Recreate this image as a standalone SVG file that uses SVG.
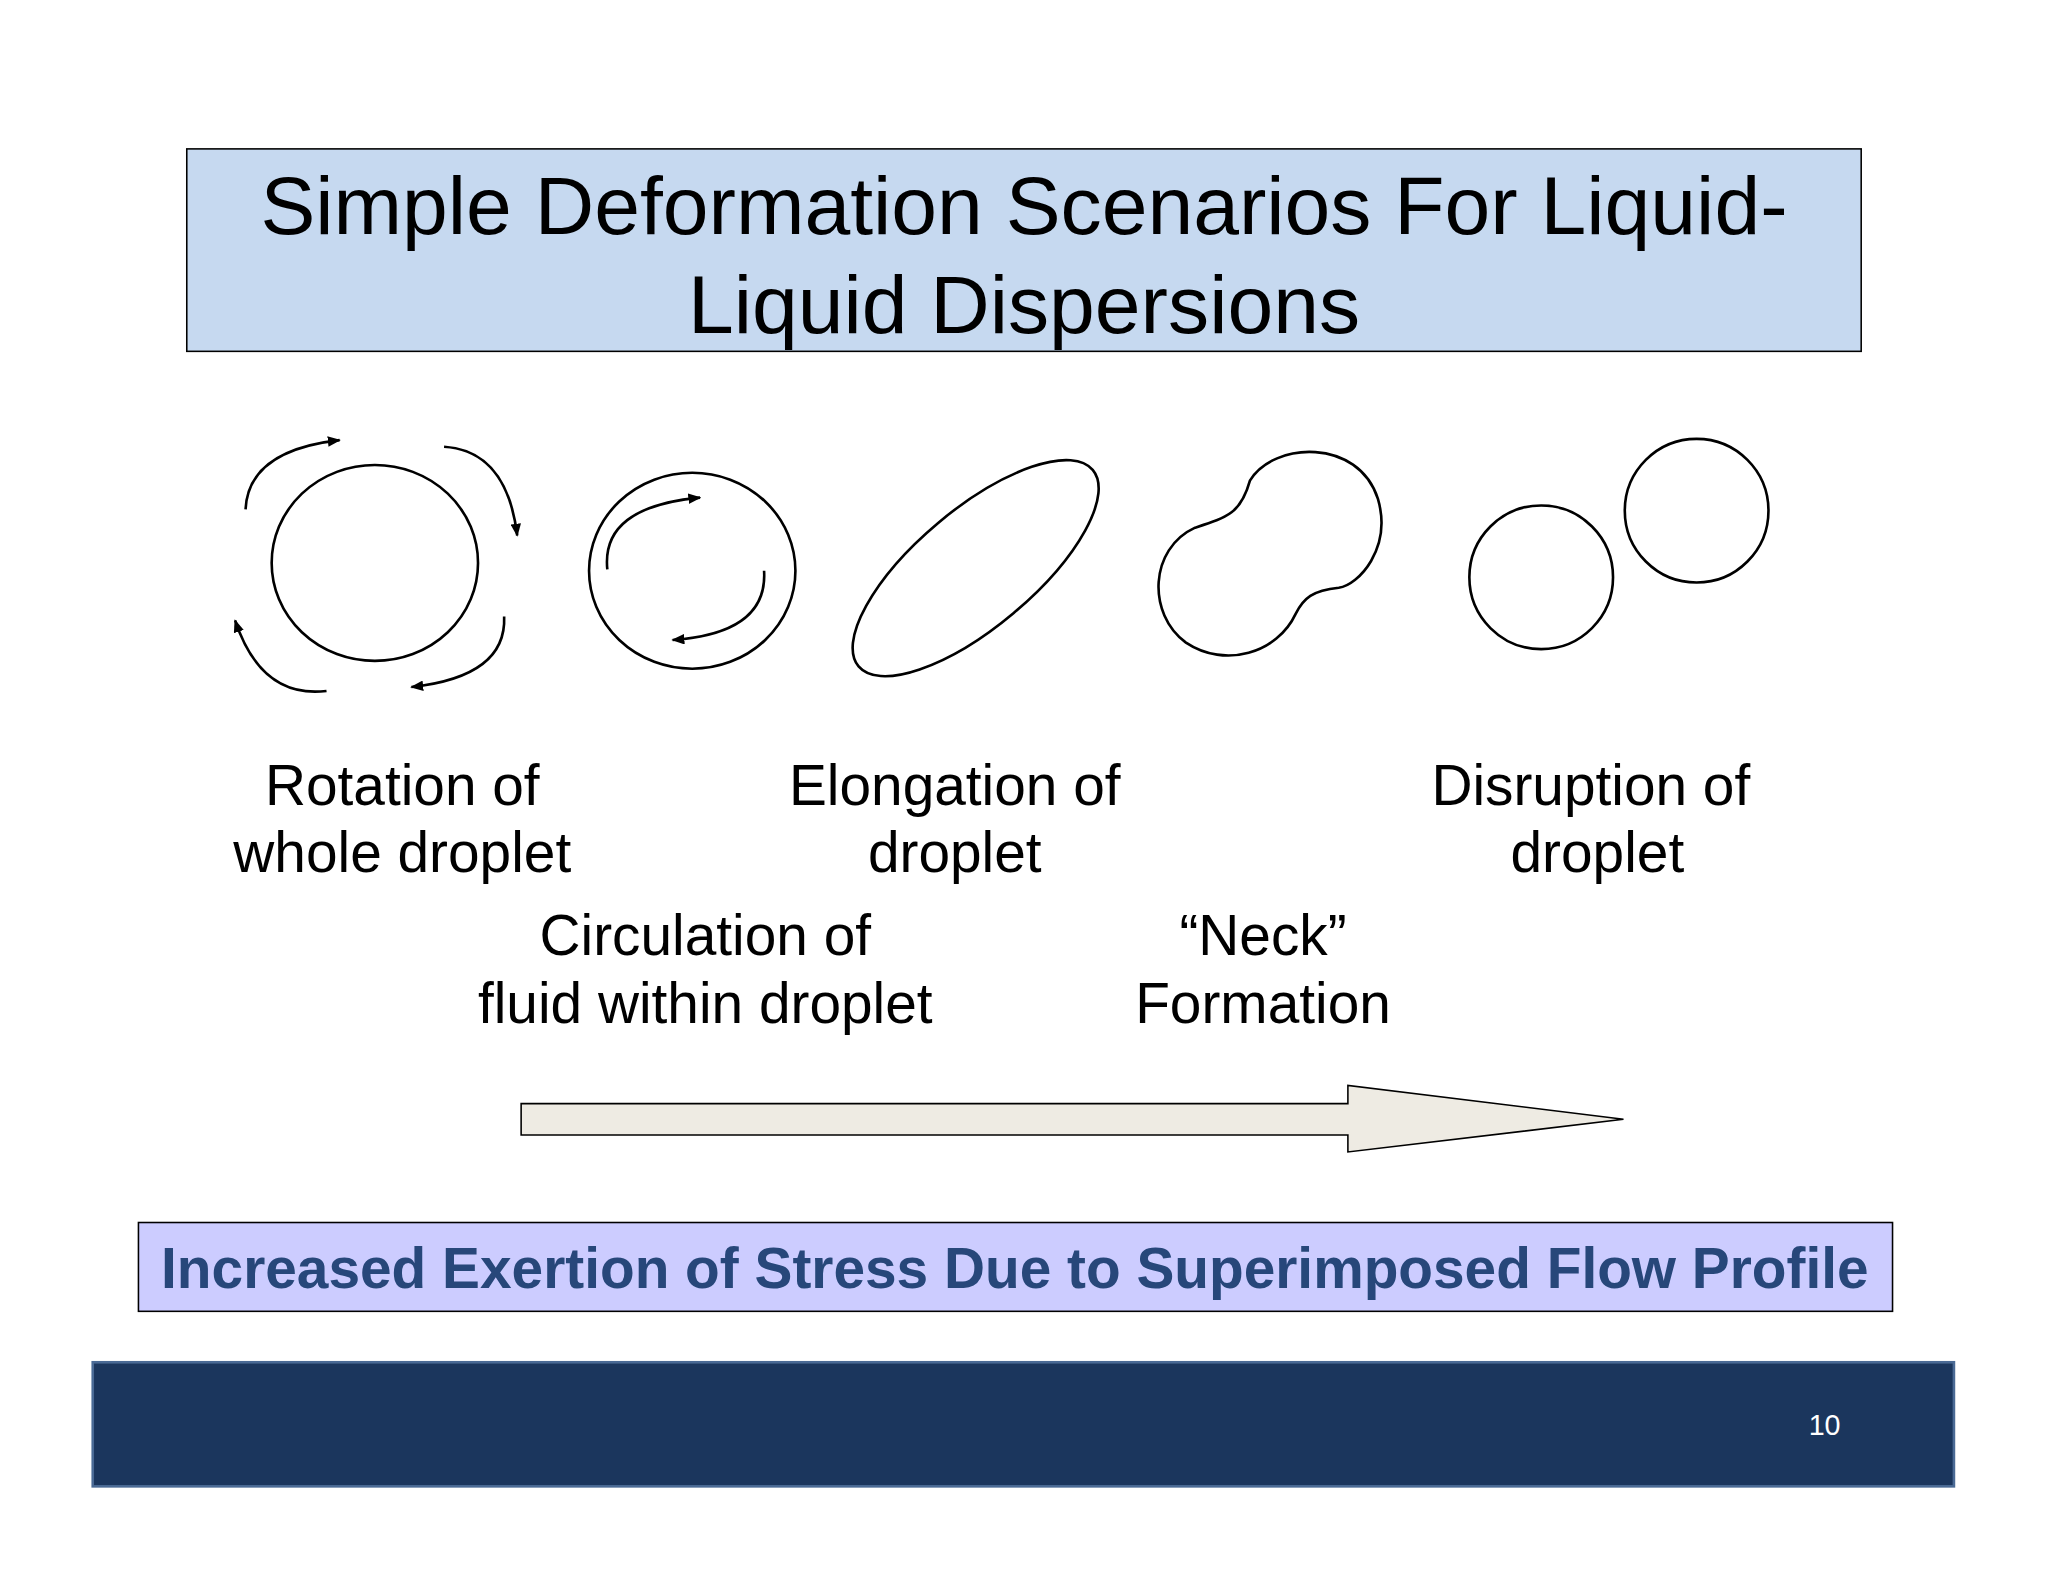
<svg xmlns="http://www.w3.org/2000/svg" width="2048" height="1582" viewBox="0 0 2048 1582">
<style>
.s{fill:none;stroke:#000;stroke-width:2}
.t{font-family:"Liberation Sans",Arial,sans-serif;font-size:43.5px;text-anchor:middle;fill:#000}
</style>
<defs><marker id="a" markerWidth="10" markerHeight="8" refX="9" refY="4" orient="auto" markerUnits="userSpaceOnUse"><path d="M0,0 L10,4 L0,8 Z" fill="#000"/></marker></defs>
<rect width="2048" height="1582" fill="#fff"/>
<g transform="scale(1.3061)">
<g id="title"><rect x="143" y="114" width="1282" height="155" fill="#c6d9f0" stroke="#000" stroke-width="1.2"/>
<text class="t" x="784" y="179" style="font-size:63px">Simple Deformation Scenarios For Liquid-</text>
<text class="t" x="784" y="255" style="font-size:63px">Liquid Dispersions</text></g>
<g id="rotation"><ellipse class="s" cx="287" cy="431" rx="79" ry="75"/></g>
<g id="circulation"><ellipse class="s" cx="530" cy="437" rx="79" ry="75"/></g>
<g id="elongation"><ellipse class="s" cx="747" cy="435" rx="117" ry="45" transform="rotate(-40 747 435)"/></g>
<g id="neck"><path class="s" d="M957,368 C975,338 1040,335 1055,382 C1066,420 1040,448 1025,450 C1005,452 998,458 992,470 C978,500 938,512 908,492 C878,470 880,420 915,404 C940,396 950,393 957,368 Z"/></g>
<g id="disruption"><circle class="s" cx="1180" cy="442" r="55"/><circle class="s" cx="1299" cy="391" r="55"/></g>
<g id="connectors">
<path class="s" d="M188,390 Q190,345 260,337" marker-end="url(#a)"/>
<path class="s" d="M340,342 Q388,345 396,410" marker-end="url(#a)"/>
<path class="s" d="M386,472 Q388,518 315,526" marker-end="url(#a)"/>
<path class="s" d="M250,529 Q200,535 180,475" marker-end="url(#a)"/>
<path class="s" d="M465,436 Q460,388 536,381" marker-end="url(#a)"/>
<path class="s" d="M585,437 Q588,485 515,490" marker-end="url(#a)"/>
</g>
<g id="labels">
<text class="t" x="308" y="616">Rotation of</text><text class="t" x="308" y="668">whole droplet</text>
<text class="t" x="731" y="616">Elongation of</text><text class="t" x="731" y="668">droplet</text>
<text class="t" x="1218" y="616">Disruption of</text><text class="t" x="1223" y="668">droplet</text>
<text class="t" x="540" y="731">Circulation of</text><text class="t" x="540" y="783">fluid within droplet</text>
<text class="t" x="967" y="731">“Neck”</text><text class="t" x="967" y="783">Formation</text>
</g>
<g id="bigarrow"><polygon points="399,845 1032,845 1032,831 1243,857 1032,882 1032,869 399,869" fill="#eeebe3" stroke="#000" stroke-width="1.2"/></g>
<g id="stress"><rect x="106" y="936" width="1343" height="68" fill="#ccccff" stroke="#000" stroke-width="1.2"/>
<text class="t" x="777" y="986" style="font-weight:bold;fill:#27477a">Increased Exertion of Stress Due to Superimposed Flow Profile</text></g>
<g id="footer"><rect x="71" y="1043" width="1425" height="95" fill="#1b365d" stroke="#4a6a95" stroke-width="2"/>
<text x="1397" y="1099" style="font-family:'Liberation Sans',Arial,sans-serif;font-size:22px;fill:#fff;text-anchor:middle">10</text></g>
</g>
</svg>
